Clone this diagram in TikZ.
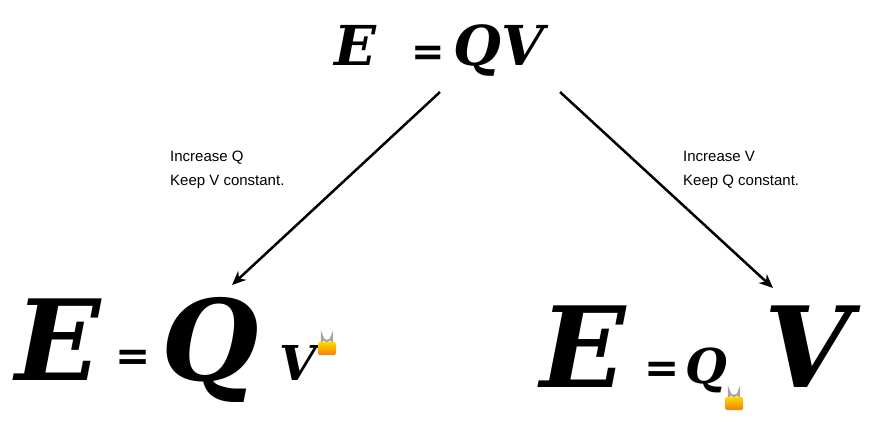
\documentclass[tikz,border=0pt]{standalone}
\usepackage{fontspec}
\setmainfont{Liberation Sans}
\newfontfamily\eqf{DejaVu Serif}[BoldItalicFont={* Bold Italic}]
\newfontfamily\eqs{DejaVu Sans}
\usetikzlibrary{arrows.meta}
\tikzset{
  sym/.style={inner sep=0pt,anchor=base,font=\eqf\bfseries\itshape},
  eqsign/.style={inner sep=0pt,anchor=base,font=\eqs\bfseries},
  lbl/.style={inner sep=0pt,anchor=north west,align=left,font=\fontsize{15}{24}\selectfont},
  arr/.style={line width=2.5pt,-{Stealth[length=14pt,width=12pt]}},
}
\newcommand{\lockat}[2]{%
  \begin{scope}[shift={(#1)},scale=#2]
    \draw[line width=2.2pt,gray!70] (-5,0) -- (-5,-6) arc[start angle=180,end angle=0,radius=5] -- (5,0);
    \shade[top color=yellow!70!orange,bottom color=orange!80!brown,rounded corners=1.5pt] (-9,0) rectangle (9,13);
  \end{scope}}
\begin{document}
\begin{tikzpicture}[x=1pt,y=-1pt]
\useasboundingbox (0,0) rectangle (881,423);
% top
\node[sym,font=\eqf\bfseries\itshape\fontsize{55}{55}\selectfont] (te) at (355,65) {E};
\node[eqsign,font=\eqs\bfseries\fontsize{40}{40}\selectfont] (teq) at (428,65) {=};
\node[sym,font=\eqf\bfseries\itshape\fontsize{55}{55}\selectfont] (tq) at (477,65) {Q};
\node[sym,font=\eqf\bfseries\itshape\fontsize{55}{55}\selectfont] (tv) at (523,65) {V};
\coordinate (top) at (500,80);
% bottom left
\node[sym,font=\eqf\bfseries\itshape\fontsize{112}{112}\selectfont] (le) at (58,380) {E};
\node[eqsign,font=\eqs\bfseries\fontsize{42}{42}\selectfont] (leq) at (133,370) {=};
\node[sym,font=\eqf\bfseries\itshape\fontsize{112}{112}\selectfont] (lq) at (210,380) {Q};
\node[sym,font=\eqf\bfseries\itshape\fontsize{48}{48}\selectfont] (lv) at (298,380) {V};
\lockat{327,342}{1}
% bottom right
\node[sym,font=\eqf\bfseries\itshape\fontsize{112}{112}\selectfont] (re) at (583,387) {E};
\node[eqsign,font=\eqs\bfseries\fontsize{42}{42}\selectfont] (req) at (662,382) {=};
\node[sym,font=\eqf\bfseries\itshape\fontsize{48}{48}\selectfont] (rq) at (706,383) {Q};
\node[sym,font=\eqf\bfseries\itshape\fontsize{112}{112}\selectfont] (rv) at (808,387) {V};
\lockat{734,397}{1}
% arrows
\coordinate (a1s) at (440,92); \coordinate (a1e) at (232,285);
\coordinate (a2s) at (560,92); \coordinate (a2e) at (773,288);
\draw[arr] (a1s) -- (a1e);
\draw[arr] (a2s) -- (a2e);
\node[lbl] (l1) at (170,151) {Increase Q\\Keep V constant.};
\node[lbl] (l2) at (683,151) {Increase V\\Keep Q constant.};
\end{tikzpicture}
\end{document}
